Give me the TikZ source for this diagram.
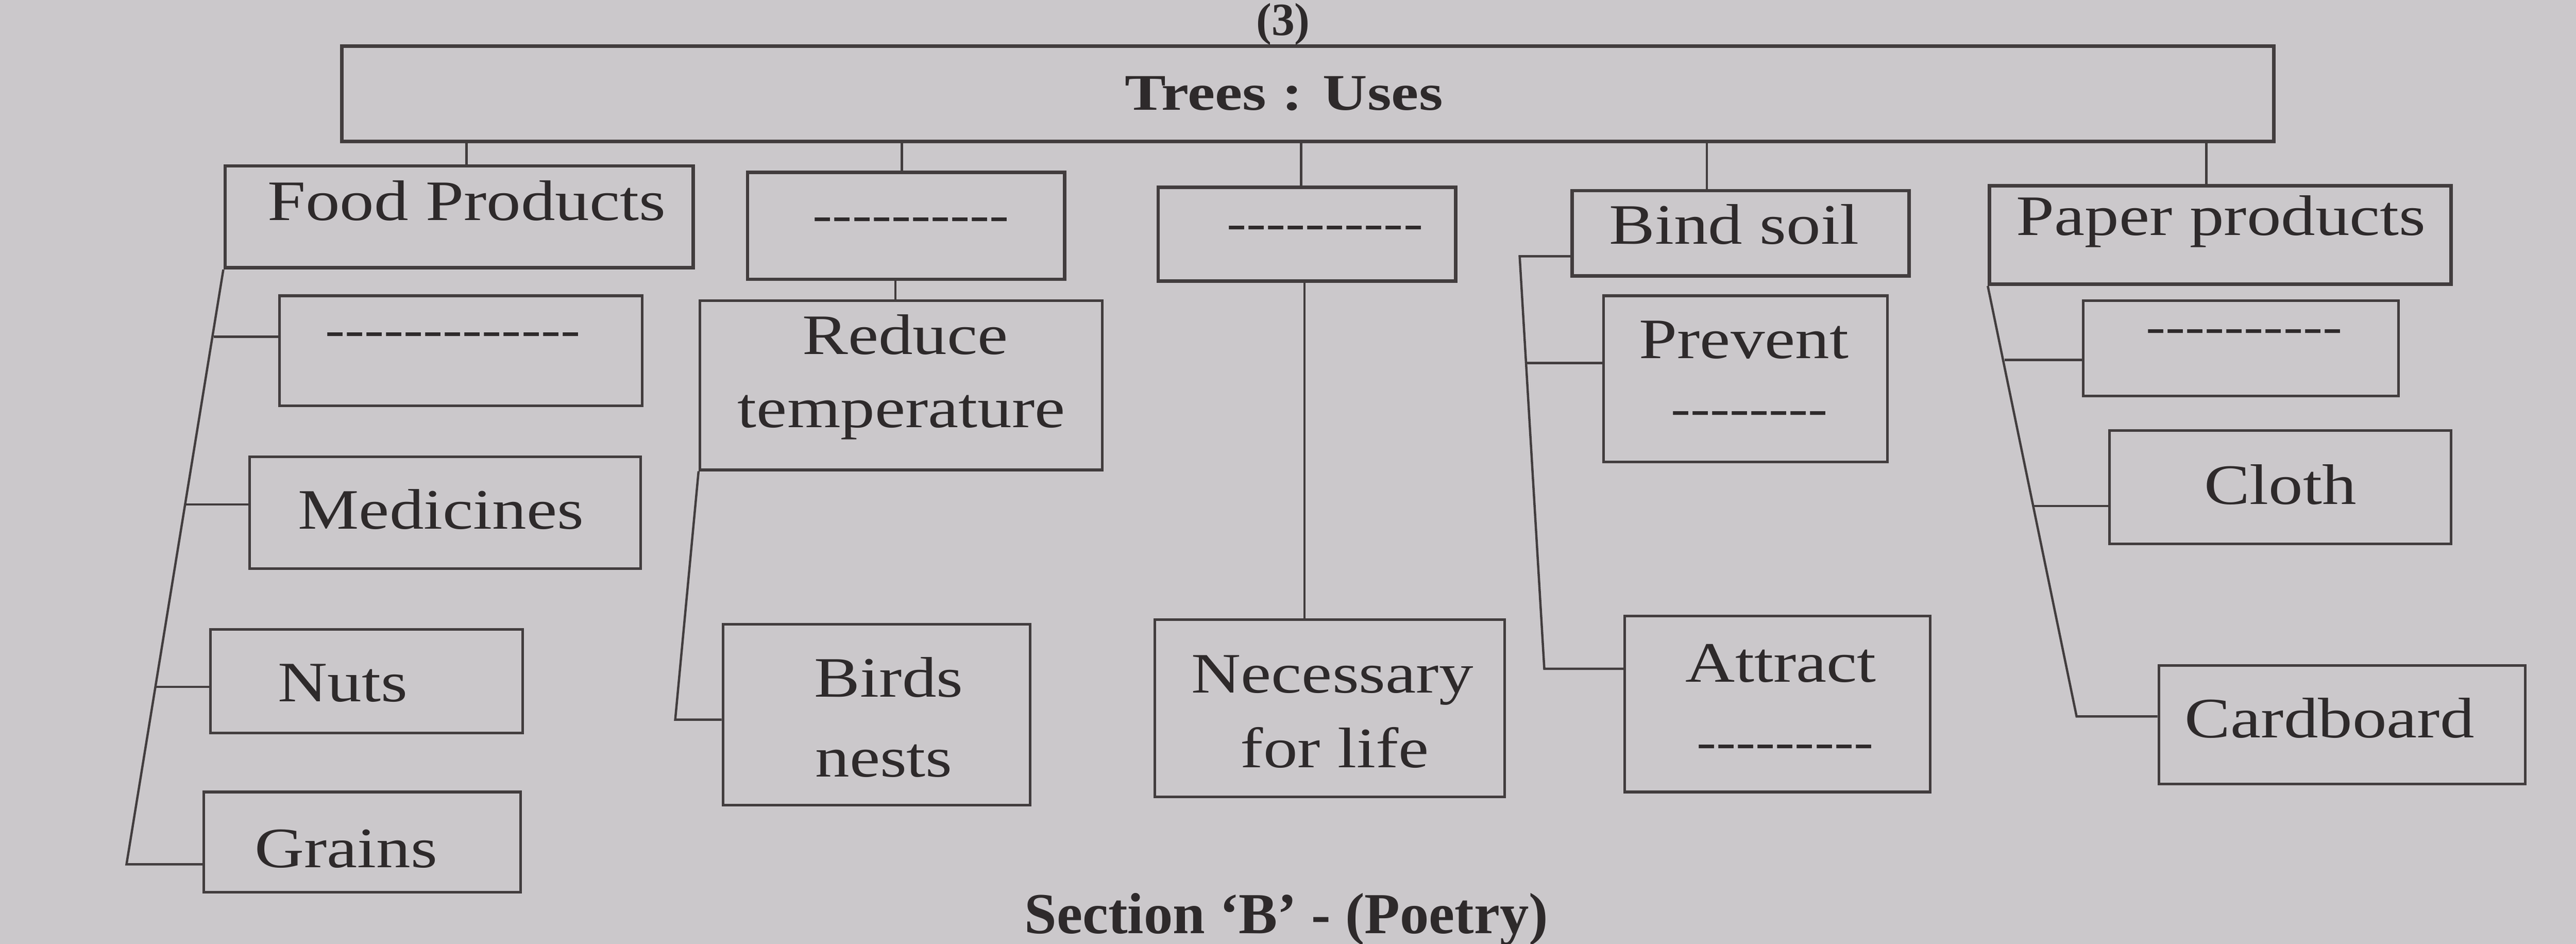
\documentclass[tikz,border=0pt]{standalone}
\usepackage{fontspec}
\setmainfont{Liberation Serif}[FakeStretch=1.2]
\newfontfamily\plainserif{Liberation Serif}
\usetikzlibrary{fit}
\definecolor{paper}{RGB}{203,200,203}
\definecolor{ink}{RGB}{66,61,62}
\definecolor{txt}{RGB}{46,42,43}
\newcommand\bxfont{\fontsize{19.8}{24}\selectfont}
\newcommand\dshfont{\fontsize{17}{20}\selectfont}
\newcommand\ttlfont{\fontsize{17.8}{21}\selectfont\bfseries}
\newcommand\secfont{\plainserif\fontsize{20.1}{24}\selectfont\bfseries}
\newcommand\numfont{\plainserif\fontsize{16}{19}\selectfont\bfseries}
\begin{document}
\begin{tikzpicture}[x=0.02cm,y=-0.02cm,
  box/.style={draw=ink,line width=0.9pt,inner sep=0pt},
  hbox/.style={box,line width=1.2pt},
  conn/.style={draw=ink,line width=0.8pt},
  lbl/.style={text=txt,inner sep=0pt,anchor=base,font=\bxfont},
  dsh/.style={lbl,font=\dshfont}]
\fill[paper] (0,0) rectangle (1568,574.4);
\useasboundingbox (0,0) rectangle (1568,574.4);

% boxes
\node[hbox,fit={(208,28) (1384,86)}] (top) {};
\node[hbox,fit={(137,101) (422,163)}] (food) {};
\node[hbox,fit={(455,105) (648,170)}] (b2) {};
\node[hbox,fit={(705,114) (886,171)}] (b3) {};
\node[hbox,fit={(957,116) (1162,168)}] (bind) {};
\node[hbox,fit={(1211,113) (1492,173)}] (paper) {};
\node[box,fit={(170,180) (391,247)}] (fc1) {};
\node[box,fit={(152,278) (390,346)}] (med) {};
\node[box,fit={(128,383) (318,446)}] (nuts) {};
\node[box,fit={(124,482) (317,543)}] (grains) {};
\node[box,fit={(426,183) (671,286)}] (reduce) {};
\node[box,fit={(440,380) (627,490)}] (birds) {};
\node[box,fit={(703,377) (916,485)}] (life) {};
\node[box,fit={(976,180) (1149,281)}] (prevent) {};
\node[box,fit={(989,375) (1175,482)}] (attract) {};
\node[box,fit={(1268,183) (1460,241)}] (pc1) {};
\node[box,fit={(1284,262) (1492,331)}] (cloth) {};
\node[box,fit={(1314,405) (1537,477)}] (card) {};

% texts
\node[lbl,font=\numfont] (tnum) at (781,21.5) {(3)};
\node[lbl,font=\ttlfont] (ttop) at (781.5,67) {Trees : Uses};
\node[lbl] (tfood) at (284,134) {Food Products};
\node[dsh] (tb2) at (554.5,140.7) {-{}-{}-{}-{}-{}-{}-{}-{}-{}-};
\node[dsh] (tb3) at (806.5,145.7) {-{}-{}-{}-{}-{}-{}-{}-{}-{}-};
\node[lbl] (tbind) at (1055.5,148.6) {Bind soil};
\node[lbl] (tpaper) at (1352,143) {Paper products};
\node[dsh] (tfc1) at (275.6,210.7) {-{}-{}-{}-{}-{}-{}-{}-{}-{}-{}-{}-{}-};
\node[lbl] (tmed) at (268.4,322) {Medicines};
\node[lbl] (tnuts) at (208.7,427) {Nuts};
\node[lbl] (tgrains) at (210.6,528) {Grains};
\node[lbl] (tred1) at (551,215.5) {Reduce};
\node[lbl] (tred2) at (548.7,260) {temperature};
\node[lbl] (tbird1) at (541,424) {Birds};
\node[lbl] (tbird2) at (538,472.7) {nests};
\node[lbl] (tlife1) at (811,421.5) {Necessary};
\node[lbl] (tlife2) at (812.5,467) {for life};
\node[lbl] (tprev1) at (1061.5,218) {Prevent};
\node[dsh] (tprev2) at (1064.8,258.7) {-{}-{}-{}-{}-{}-{}-{}-};
\node[lbl] (tattr1) at (1084,415) {Attract};
\node[dsh] (tattr2) at (1086.6,461.3) {-{}-{}-{}-{}-{}-{}-{}-{}-};
\node[dsh] (tpc1) at (1366,208.7) {-{}-{}-{}-{}-{}-{}-{}-{}-{}-};
\node[lbl] (tcloth) at (1388,307) {Cloth};
\node[lbl] (tcard) at (1418,449) {Cardboard};
\node[lbl,font=\secfont] (tsec) at (783,568) {Section ‘B’ - (Poetry)};

% drop positions
\coordinate (d1) at (284,0);
\coordinate (d2) at (549,0);
\coordinate (d3) at (792,0);
\coordinate (d4) at (1039,0);
\coordinate (d5) at (1343,0);
\coordinate (d6) at (794,0);
\coordinate (d7) at (545,0);
\draw[conn] (top.south -| d1) -- (food.north -| d1);
\draw[conn] (top.south -| d2) -- (b2.north -| d2);
\draw[conn] (top.south -| d3) -- (b3.north -| d3);
\draw[conn] (top.south -| d4) -- (bind.north -| d4);
\draw[conn] (top.south -| d5) -- (paper.north -| d5);
\draw[conn] (b2.south -| d7) -- (reduce.north -| d7);
\draw[conn] (b3.south -| d6) -- (life.north -| d6);

% food products trunk
\coordinate (ft1) at (130,205);
\coordinate (ft2) at (113,307);
\coordinate (ft3) at (95,418);
\coordinate (ft4) at (77,526);
\draw[conn] (food.south west) -- (ft4) -- (grains.west |- ft4);
\draw[conn] (ft1) -- (fc1.west |- ft1);
\draw[conn] (ft2) -- (med.west |- ft2);
\draw[conn] (ft3) -- (nuts.west |- ft3);

% reduce temperature trunk
\coordinate (rt) at (411,438);
\draw[conn] (reduce.south west) -- (rt) -- (birds.west |- rt);

% bind soil trunk
\coordinate (bt0) at (925,156);
\coordinate (bt1) at (928.9,221);
\coordinate (bt2) at (940,407);
\draw[conn] (bind.west |- bt0) -- (bt0) -- (bt2) -- (attract.west |- bt2);
\draw[conn] (bt1) -- (prevent.west |- bt1);

% paper products trunk
\coordinate (pt1) at (1220.2,219);
\coordinate (pt2) at (1238.1,308);
\coordinate (pt3) at (1264,436);
\draw[conn] (paper.south west) -- (pt3) -- (card.west |- pt3);
\draw[conn] (pt1) -- (pc1.west |- pt1);
\draw[conn] (pt2) -- (cloth.west |- pt2);
\end{tikzpicture}
\end{document}
